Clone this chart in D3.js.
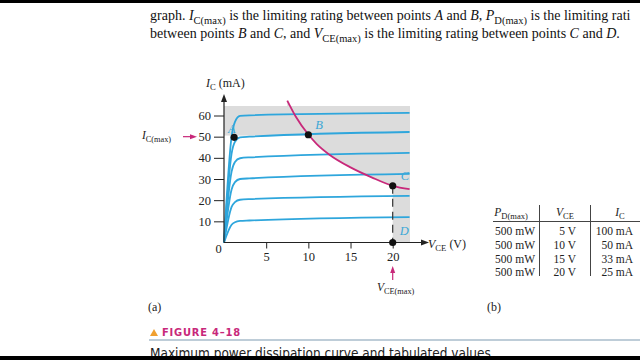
<!DOCTYPE html>
<html><head><meta charset="utf-8">
<script src="https://cdn.jsdelivr.net/npm/d3@7"></script>
<style>
html,body{margin:0;padding:0;background:#fff;}
svg{display:block;}
.serif{font-family:"Liberation Serif","Times New Roman",serif;}
</style></head>
<body>
<svg id="c" width="640" height="360"></svg>
<script>
// ---------- data ----------
const xTicks = [5, 10, 15, 20];
const yTicks = [10, 20, 30, 40, 50, 60];
const curve60 = [[0,0],[0.9,50],[1.3,57],[1.9,59.8],[3,60.1],[22,61.2]];
const curve50 = [[0,0],[0.9,42],[1.3,47.6],[1.9,49.7],[3,50],[22,52.2]];
const curve40 = [[0,0],[0.9,33.5],[1.3,38],[1.9,39.8],[3,40.2],[22,42.3]];
const curve30 = [[0,0],[0.9,25],[1.3,28.5],[1.9,30],[3,30.3],[22,32.4]];
const curve20 = [[0,0],[0.9,16.8],[1.3,19.1],[1.9,20.2],[3,20.5],[22,22]];
const curve10 = [[0,0],[0.9,8.4],[1.3,9.6],[1.9,10.2],[3,10.4],[22,12]];
const powerCurve = [[7.5,67],[8.5,59.5],[10,51],[11,46.5],[12.5,41.5],[15,35.5],[17.5,30.8],[20,26.8],[22,25.2]];
const pointNames = ["A","B","C","D"];
const pointV = [1.2, 10, 20, 20];
const pointI = [49.7, 50.9, 26.8, 0];
const icMax = 50, vceMax = 20;
const tableHeader = ["P","V","I"];
const tableSub = ["D(max)","CE","C"];
const tablePD = ["500 mW","500 mW","500 mW","500 mW"];
const tableVCE = ["5 V","10 V","15 V","20 V"];
const tableIC = ["100 mA","50 mA","33 mA","25 mA"];

// ---------- drawing ----------
const svg = d3.select("#c");
const BLUE = "#2ea6dc", MAG = "#c8287a", GRAY = "#dcdcdc";
const x = d3.scaleLinear().domain([0,20]).range([224, 392.7]);
const y = d3.scaleLinear().domain([0,60]).range([242.5, 115.5]);
const xMaxV = 22.05, yTopI = 64.5;

svg.append("rect").attr("width",640).attr("height",360).attr("fill","#fff");

// shaded region
svg.append("rect").attr("x",x(0)).attr("y",y(yTopI))
  .attr("width",x(xMaxV)-x(0)).attr("height",y(0)-y(yTopI)).attr("fill",GRAY);
svg.append("rect").attr("x",x(0)).attr("y",y(icMax+0.5))
  .attr("width",x(vceMax)-x(0)).attr("height",y(0)-y(icMax+0.5)).attr("fill","#fff");
svg.append("path").datum(powerCurve)
  .attr("d", d3.area().x(d=>x(d[0])).y0(y(yTopI)).y1(d=>y(d[1])).curve(d3.curveMonotoneX))
  .attr("fill",GRAY);

// collector curves
const line = d3.line().x(d=>x(d[0])).y(d=>y(d[1])).curve(d3.curveMonotoneX);
[curve60,curve50,curve40,curve30,curve20,curve10].forEach(c=>{
  svg.append("path").datum(c).attr("d",line).attr("fill","none")
    .attr("stroke",BLUE).attr("stroke-width",1.8);
});
// power curve
svg.append("path").datum(powerCurve).attr("d",line).attr("fill","none")
  .attr("stroke",MAG).attr("stroke-width",1.8);

// dashed Vce(max) line
svg.append("line").attr("x1",x(vceMax)).attr("x2",x(vceMax))
  .attr("y1",y(pointI[2])).attr("y2",y(0))
  .attr("stroke","#333").attr("stroke-width",1.2).attr("stroke-dasharray","8,5");

// axes
const ax = svg.append("g").attr("class","serif");
ax.append("line").attr("x1",x(0)).attr("x2",423).attr("y1",y(0)).attr("y2",y(0)).attr("stroke","#222").attr("stroke-width",1.2);
ax.append("line").attr("x1",x(0)).attr("x2",x(0)).attr("y1",y(0)).attr("y2",100).attr("stroke","#222").attr("stroke-width",1.2);
ax.append("path").attr("d",`M429,${y(0)} L421,${y(0)-3} L421,${y(0)+3} Z`).attr("fill","#222");
ax.append("path").attr("d",`M${x(0)},94 L${x(0)-3},102 L${x(0)+3},102 Z`).attr("fill","#222");

const gx = svg.append("g").attr("transform",`translate(0,${y(0)})`)
  .call(d3.axisBottom(x).tickValues(xTicks).tickSize(6).tickPadding(4).tickFormat(d3.format("d")));
gx.select(".domain").remove();
gx.selectAll("line").attr("stroke","#222");
gx.selectAll("text").attr("font-family","Liberation Serif, serif").attr("font-size",12.5).attr("fill","#222");

const gy = svg.append("g").attr("transform",`translate(${x(0)},0)`)
  .call(d3.axisLeft(y).tickValues(yTicks).tickSize(10).tickPadding(3).tickFormat(d3.format("d")));
gy.select(".domain").remove();
gy.selectAll("line").attr("stroke","#222");
gy.selectAll("text").attr("font-family","Liberation Serif, serif").attr("font-size",12.5).attr("fill","#222");

svg.append("text").attr("class","serif").attr("x",218.5).attr("y",253).attr("text-anchor","middle")
  .attr("font-size",12.5).attr("fill","#222").text("0");

// axis titles
function subLabel(g, xx, yy, main, sub, rest, size, anchor, fill){
  const t = g.append("text").attr("class","serif").attr("x",xx).attr("y",yy)
    .attr("font-size",size).attr("fill",fill||"#222").attr("text-anchor",anchor||"start");
  t.append("tspan").attr("font-style","italic").text(main);
  t.append("tspan").attr("font-size",size*0.72).attr("dy",size*0.28).text(sub);
  if(rest) t.append("tspan").attr("dy",-size*0.28).text(rest);
  return t;
}
subLabel(svg, 206, 87, "I", "C", " (mA)", 12);
subLabel(svg, 428, 248, "V", "CE", " (V)", 12);
subLabel(svg, 142, 139, "I", "C(max)", null, 11.5);
subLabel(svg, 377, 291, "V", "CE(max)", null, 11.5);

// magenta arrows
svg.append("line").attr("x1",183).attr("x2",192).attr("y1",y(icMax)).attr("y2",y(icMax)).attr("stroke",MAG).attr("stroke-width",1.2);
svg.append("path").attr("d",`M197,${y(icMax)} L190,${y(icMax)-2.5} L190,${y(icMax)+2.5} Z`).attr("fill",MAG);
svg.append("line").attr("x1",x(vceMax)).attr("x2",x(vceMax)).attr("y1",280).attr("y2",271).attr("stroke",MAG).attr("stroke-width",1.2);
svg.append("path").attr("d",`M${x(vceMax)},266 L${x(vceMax)-2.5},273 L${x(vceMax)+2.5},273 Z`).attr("fill",MAG);

// points
const labOff = [[-6,-4],[7,-6],[8,-6],[7,-8]];
pointNames.forEach((n,i)=>{
  svg.append("circle").attr("cx",x(pointV[i])).attr("cy",y(pointI[i])).attr("r",3.6).attr("fill","#111");
  svg.append("text").attr("class","serif").attr("x",x(pointV[i])+labOff[i][0]).attr("y",y(pointI[i])+labOff[i][1])
    .attr("font-style","italic").attr("font-size",12.5).attr("fill","#3ba7d6").text(n);
});

// top paragraph
const para = svg.append("g").attr("class","serif").attr("font-size",14).attr("fill","#111");
function richLine(yy, parts){
  const t = para.append("text").attr("x",150).attr("y",yy);
  parts.forEach(p=>{
    const s = t.append("tspan").text(p.t);
    if(p.i) s.attr("font-style","italic");
    if(p.s) s.attr("font-size",10.5).attr("dy",3.5);
    if(p.r) s.attr("dy",-3.5);
  });
}
richLine(20, [{t:"graph. "},{t:"I",i:1},{t:"C(max)",s:1},{t:" is the limiting rating between points ",r:1},{t:"A",i:1},{t:" and "},{t:"B",i:1},{t:", "},{t:"P",i:1},{t:"D(max)",s:1},{t:" is the limiting rati",r:1}]);
richLine(38, [{t:"between points "},{t:"B",i:1},{t:" and "},{t:"C",i:1},{t:", and "},{t:"V",i:1},{t:"CE(max)",s:1},{t:" is the limiting rating between points ",r:1},{t:"C",i:1},{t:" and "},{t:"D",i:1},{t:"."}]);

// table
const tb = svg.append("g").attr("class","serif").attr("font-size",11.5).attr("fill","#222");
const hx = [511, 565, 620];
tableHeader.forEach((h,i)=>{
  const t = tb.append("text").attr("x",hx[i]).attr("y",216).attr("text-anchor","middle");
  t.append("tspan").attr("font-style","italic").text(h);
  t.append("tspan").attr("font-size",8.5).attr("dy",3).text(tableSub[i]);
});
tb.append("line").attr("x1",493).attr("x2",640).attr("y1",221.5).attr("y2",221.5).attr("stroke","#444").attr("stroke-width",1);
[539.5, 590.5].forEach(v=>tb.append("line").attr("x1",v).attr("x2",v).attr("y1",205).attr("y2",276).attr("stroke","#444").attr("stroke-width",1));
const rowY = [235, 248.5, 262.5, 276];
tablePD.forEach((v,i)=>tb.append("text").attr("x",535).attr("y",rowY[i]).attr("text-anchor","end").text(v));
tableVCE.forEach((v,i)=>tb.append("text").attr("x",576).attr("y",rowY[i]).attr("text-anchor","end").text(v));
tableIC.forEach((v,i)=>tb.append("text").attr("x",633).attr("y",rowY[i]).attr("text-anchor","end").text(v));

// sub-figure labels
svg.append("text").attr("class","serif").attr("x",148).attr("y",311).attr("font-size",12).attr("fill","#222").text("(a)");
svg.append("text").attr("class","serif").attr("x",487).attr("y",311).attr("font-size",12).attr("fill","#222").text("(b)");

// figure caption
svg.append("path").attr("d","M150,336 L154,329 L158,336 Z").attr("fill","#f0a030");
svg.append("text").attr("x",162).attr("y",336).attr("font-family","'DejaVu Sans Condensed','DejaVu Sans',sans-serif")
  .attr("font-stretch","condensed").attr("font-weight","bold").attr("font-size",11).attr("letter-spacing",0.8)
  .attr("fill","#c8287a").text("FIGURE 4–18");
svg.append("line").attr("x1",149).attr("x2",640).attr("y1",340).attr("y2",340).attr("stroke","#a8bccb").attr("stroke-width",1.5);
svg.append("text").attr("x",150).attr("y",358).attr("font-family","'Liberation Sans Narrow','DejaVu Sans Condensed',sans-serif")
  .attr("font-stretch","condensed").attr("font-size",13.5).attr("fill","#222")
  .text("Maximum power dissipation curve and tabulated values.");

// black bands (screen edges)
svg.append("rect").attr("x",0).attr("y",0).attr("width",640).attr("height",3).attr("fill","#000");
svg.append("rect").attr("x",0).attr("y",356).attr("width",640).attr("height",4).attr("fill","#000");
</script>
</body></html>
